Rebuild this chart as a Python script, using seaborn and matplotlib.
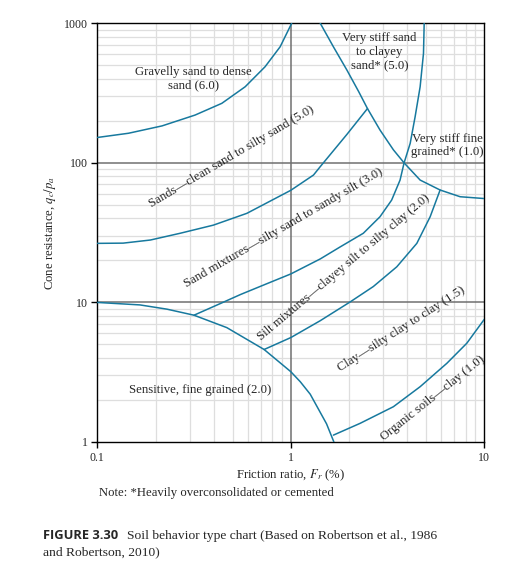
import pandas as pd
import seaborn as sns
import matplotlib.pyplot as plt
from matplotlib.ticker import FixedLocator, LogLocator, NullFormatter

# zone boundaries: friction ratio Fr (%) and qc/pa
gravel_fr = [0.1, 0.145, 0.216, 0.32, 0.44, 0.581, 0.736, 0.881, 0.99, 1.01]
gravel_qc = [152, 163, 184, 220, 267, 351, 488, 679, 944, 1000]

sand_fr = [0.1, 0.136, 0.188, 0.268, 0.398, 0.593, 1.0, 1.31, 1.42, 1.95, 2.49]
sand_qc = [26.5, 26.6, 28.0, 31.3, 35.8, 43.5, 63.6, 81.8, 94, 160, 245]

sandmix_fr = [0.316, 0.431, 0.55, 0.75, 1.0, 1.42, 1.8, 2.37, 2.89, 3.32, 3.67, 3.85]
sandmix_qc = [8.1, 9.8, 11.4, 13.6, 16.0, 20.5, 25.0, 31.3, 41.1, 54.1, 75.3, 100]

siltmix_fr = [0.728, 1.0, 1.42, 2.03, 2.67, 3.53, 4.48, 5.25, 5.91]
siltmix_qc = [4.6, 5.6, 7.4, 10.1, 13.0, 18.0, 26.5, 41.1, 63.9]

organic_fr = [1.66, 2.28, 3.39, 4.66, 6.4, 8.12, 10.0]
organic_qc = [1.12, 1.36, 1.79, 2.49, 3.66, 5.1, 7.57]

sensitive_fr = [0.1, 0.166, 0.229, 0.316, 0.467, 0.728, 1.0, 1.12, 1.26, 1.53, 1.67]
sensitive_qc = [10, 9.6, 8.95, 8.1, 6.6, 4.6, 3.19, 2.7, 2.2, 1.35, 1.0]

stiff_fr = [1.42, 1.66, 1.95, 2.24, 2.49, 2.89, 3.39, 3.85, 4.66, 5.91, 7.5, 10.0]
stiff_qc = [1000, 679, 462, 325, 245, 172, 124, 100, 75.3, 63.9, 57.2, 55.5]

fine_fr = [3.85, 4.14, 4.39, 4.66, 4.85, 4.89]
fine_qc = [100, 138, 214, 351, 609, 1000]

# darker reference lines inside the chart
ref_fr = [1]
ref_qc = [10, 100]

curves = {
    "gravel": (gravel_fr, gravel_qc),
    "sand": (sand_fr, sand_qc),
    "sandmix": (sandmix_fr, sandmix_qc),
    "siltmix": (siltmix_fr, siltmix_qc),
    "organic": (organic_fr, organic_qc),
    "sensitive": (sensitive_fr, sensitive_qc),
    "stiff": (stiff_fr, stiff_qc),
    "fine": (fine_fr, fine_qc),
}
frames = [pd.DataFrame({"fr": f, "qc": q, "curve": name}) for name, (f, q) in curves.items()]
df = pd.concat(frames, ignore_index=True)

sns.set_style("ticks")
plt.rcParams["font.family"] = ["Liberation Serif", "DejaVu Serif"]
plt.rcParams["mathtext.fontset"] = "stix"

W, H = 518, 572
def fx(px):
    return px / W
def fy(py):
    return 1 - py / H

fig = plt.figure(figsize=(W / 100, H / 100), dpi=100)
ax = fig.add_axes([fx(97.3), fy(442), (484.3 - 97.3) / W, (442 - 23.3) / H])
ax.set_xscale("log")
ax.set_yscale("log")

blue = "#17799e"
sns.lineplot(data=df, x="fr", y="qc", units="curve", estimator=None, sort=False,
             color=blue, lw=1.1, ax=ax, zorder=3)

for v in ref_fr:
    ax.axvline(v, color="#707070", lw=1.1, zorder=2)
for v in ref_qc:
    ax.axhline(v, color="#707070", lw=1.1, zorder=2)

ax.set_xlim(0.1, 10)
ax.set_ylim(1, 1000)
ax.xaxis.set_major_locator(FixedLocator([0.1, 1, 10]))
ax.yaxis.set_major_locator(FixedLocator([1, 10, 100, 1000]))
ax.set_xticklabels(["0.1", "1", "10"])
ax.set_yticklabels(["1", "10", "100", "1000"])
ax.xaxis.set_minor_locator(LogLocator(base=10, subs=range(2, 10)))
ax.yaxis.set_minor_locator(LogLocator(base=10, subs=range(2, 10)))
ax.xaxis.set_minor_formatter(NullFormatter())
ax.yaxis.set_minor_formatter(NullFormatter())
ax.tick_params(which="major", direction="out", length=4, width=1, color="black",
               labelsize=8.6, pad=3)
ax.tick_params(which="minor", length=0)
ax.grid(which="minor", color="#dedede", lw=0.9, ls="-")
ax.grid(which="major", visible=False)
ax.set_axisbelow(True)
for s in ax.spines.values():
    s.set_color("black")
    s.set_linewidth(1.0)
ax.set_xlabel("")
ax.set_ylabel("")

fs = 9.2
fig.text(fx(193.3), fy(78.5), "Gravelly sand to dense\nsand (6.0)", ha="center", va="center",
         fontsize=fs, linespacing=1.2)
fig.text(fx(379.3), fy(51.7), "Very stiff sand\nto clayey\nsand* (5.0)", ha="center", va="center",
         fontsize=fs, linespacing=1.2)
fig.text(fx(447.3), fy(145.5), "Very stiff fine\ngrained* (1.0)", ha="center", va="center",
         fontsize=fs, linespacing=1.2)
fig.text(fx(200), fy(390), "Sensitive, fine grained (2.0)", ha="center", va="center", fontsize=fs)

rotated = [
    ("Sands\u2014clean sand to silty sand (5.0)", 232, 157, 30.5),
    ("Sand mixtures\u2014silty sand to sandy silt (3.0)", 283, 228, 30),
    ("Silt mixtures\u2014clayey silt to silty clay (2.0)", 344, 267, 40),
    ("Clay\u2014silty clay to clay (1.5)", 401, 329, 32.5),
    ("Organic soils\u2014clay (1.0)", 432.5, 398.5, 38.5),
]
for txt, px, py, rot in rotated:
    fig.text(fx(px), fy(py), txt, ha="center", va="center", rotation=rot,
             rotation_mode="anchor", fontsize=fs)

fig.text(fx(50), fy(233), "Cone resistance, $q_c/p_a$", rotation=90, ha="center", va="center",
         fontsize=fs)
fig.text(fx(290.5), fy(475), "Friction ratio, $F_r$ (%)", ha="center", va="center", fontsize=fs)
fig.text(fx(216.5), fy(492.7), "Note: *Heavily overconsolidated or cemented", ha="center",
         va="center", fontsize=fs)

fig.text(fx(42.7), fy(535.7), "FIGURE 3.30", ha="left", va="center", fontsize=9.3,
         family="Open Sans", weight="bold")
fig.text(fx(126.7), fy(535.7), "Soil behavior type chart (Based on Robertson et al., 1986",
         ha="left", va="center", fontsize=9.7)
fig.text(fx(42.7), fy(552.7), "and Robertson, 2010)", ha="left", va="center", fontsize=9.7)

fig.savefig("out.png", dpi=100)
